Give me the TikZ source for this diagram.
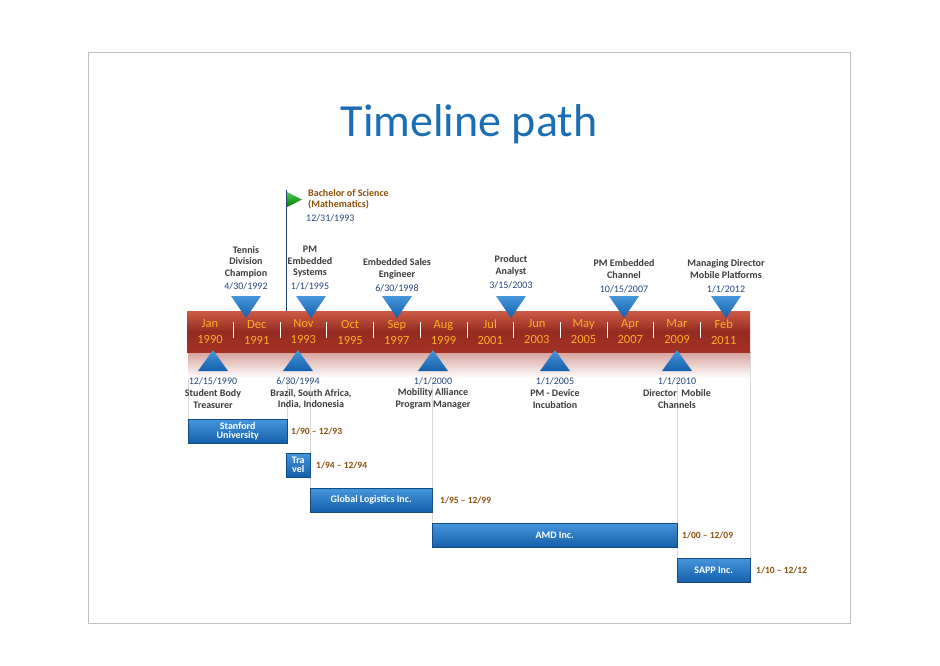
\documentclass[tikz,border=0pt]{standalone}
\usepackage{fontspec}
\setmainfont{Carlito}
\usetikzlibrary{shapes.geometric, arrows, calc, positioning}
\definecolor{barred}{RGB}{165,48,36}
\definecolor{barlight}{RGB}{205,92,70}
\definecolor{monthorange}{RGB}{255,172,40}
\definecolor{tribluelight}{RGB}{70,150,220}
\definecolor{triblue}{RGB}{20,95,170}
\definecolor{labelgray}{RGB}{60,60,60}
\definecolor{dateblue}{RGB}{35,70,125}
\definecolor{rangebrown}{RGB}{140,80,10}
\definecolor{titleblue}{RGB}{25,110,180}
\tikzstyle{eventtext} = [align=center, text=labelgray, font=\fontsize{10}{11.5}\selectfont\bfseries, inner sep=0pt]
\tikzstyle{eventdate} = [text=dateblue, font=\fontsize{10}{11}\selectfont, inner sep=0pt]
\tikzstyle{month} = [align=center, text=monthorange, font=\fontsize{12.5}{16}\selectfont, inner sep=0pt]
\tikzstyle{span} = [draw=triblue!80!black, top color=tribluelight, bottom color=triblue, text=white, align=center, font=\fontsize{10}{9}\selectfont\bfseries, inner sep=0pt, anchor=north west]
\tikzstyle{spanrange} = [text=rangebrown, font=\fontsize{9.5}{11}\selectfont\bfseries, inner sep=0pt, anchor=west]
\tikzstyle{guide} = [draw=black!15, thin]
\newcommand{\downmark}[1]{\shade[top color=tribluelight, bottom color=triblue] (#1-15,296) -- (#1+15,296) -- (#1,318) -- cycle;}
\newcommand{\upmark}[1]{\shade[top color=tribluelight, bottom color=triblue] (#1,350) -- (#1+15,371) -- (#1-15,371) -- cycle;}
\begin{document}
\begin{tikzpicture}[x=1pt, y=-1pt]
	\useasboundingbox (0,0) rectangle (940,665);
	\fill[white] (0,0) rectangle (940,665);
	\draw[black!25] (88,52) rectangle (850,623);
	\node (Title) [text=titleblue, font=\fontsize{46}{50}\selectfont] at (469,124) {Timeline path};
	% guide lines
	\draw[guide] (188,352) -- (188,443);
	\draw[guide] (287,352) -- (287,419);
	\draw[guide] (310,352) -- (310,488);
	\draw[guide] (432,352) -- (432,523);
	\draw[guide] (677,352) -- (677,558);
	\draw[guide] (750,352) -- (750,558);
	% bar and shadow
	\shade[top color=barred!45, bottom color=white] (188,352) rectangle (750,378);
	\shade[top color=barlight, bottom color=barred, middle color=barred!90!black] (187,311) rectangle (750,352);
	\foreach \m/\y [count=\i from 0] in {Jan/1990, Dec/1991, Nov/1993, Oct/1995, Sep/1997, Aug/1999, Jul/2001, Jun/2003, May/2005, Apr/2007, Mar/2009, Feb/2011}{
		\node (M\i) [month] at ({210+46.7*\i},332) {\m\\\y};
		\ifnum\i>0 \draw[white, line width=1pt] ({233.5+46.7*(\i-1)},322) -- ++(0,16); \fi
	}
	% flag
	\draw[dateblue, line width=1pt] (286,190) -- (286,311);
	\shade[top color=green!70!black!70, bottom color=green!50!black] (287,192) -- (302,199.5) -- (287,207) -- cycle;
	\node (Flag) [eventtext, text=rangebrown, align=left, anchor=north west] at (308,189) {Bachelor of Science\\(Mathematics)};
	\node (FlagDate) [eventdate, anchor=north west] at (306,214) {12/31/1993};
	% events above
	\node (Tennis) [eventtext] at (246,262) {Tennis\\Division\\Champion};
	\node (TennisDate) [eventdate] at (246,286) {4/30/1992};
	\node (PMSys) [eventtext] at (310,262) {PM\\Embedded\\Systems};
	\node (PMSysDate) [eventdate] at (310,286) {1/1/1995};
	\node (Sales) [eventtext] at (397,269) {Embedded Sales\\Engineer};
	\node (SalesDate) [eventdate] at (397,288) {6/30/1998};
	\node (Analyst) [eventtext] at (511,266) {Product\\Analyst};
	\node (AnalystDate) [eventdate] at (511,285) {3/15/2003};
	\node (Channel) [eventtext] at (624,269) {PM Embedded\\Channel};
	\node (ChannelDate) [eventdate] at (624,289) {10/15/2007};
	\node (Platforms) [eventtext] at (726,269) {Managing Director\\Mobile Platforms};
	\node (PlatformsDate) [eventdate] at (726,289) {1/1/2012};
	\downmark{246} \downmark{311} \downmark{397} \downmark{511} \downmark{624} \downmark{726}
	% events below
	\upmark{213} \upmark{298} \upmark{433} \upmark{555} \upmark{677}
	\node (TreasurerDate) [eventdate] at (213,381) {12/15/1990};
	\node (Treasurer) [eventtext] at (213,399) {Student Body\\Treasurer};
	\node (TravelDate) [eventdate] at (298,381) {6/30/1994};
	\node (Countries) [eventtext] at (311,399) {Brazil, South Africa,\\India, Indonesia};
	\node (AllianceDate) [eventdate] at (433,381) {1/1/2000};
	\node (Alliance) [eventtext] at (433,399) {Mobility Alliance\\Program Manager};
	\node (IncubationDate) [eventdate] at (555,381) {1/1/2005};
	\node (Incubation) [eventtext] at (555,399) {PM - Device\\Incubation};
	\node (MobileDate) [eventdate] at (677,381) {1/1/2010};
	\node (Mobile) [eventtext] at (677,399) {Director\ \ Mobile\\Channels};
	% spans
	\node (Stanford) [span, minimum width=99pt, minimum height=24pt] at (188,419) {Stanford\\University};
	\node (StanfordRange) [spanrange] at (291,431) {1/90 -- 12/93};
	\node (Travel) [span, minimum width=24pt, minimum height=24pt] at (286,453) {Tra\\vel};
	\node (TravelRange) [spanrange] at (316,465) {1/94 -- 12/94};
	\node (Logistics) [span, minimum width=122pt, minimum height=24pt] at (310,488) {Global Logistics Inc.};
	\node (LogisticsRange) [spanrange] at (440,500) {1/95 -- 12/99};
	\node (AMD) [span, minimum width=245pt, minimum height=24pt] at (432,523) {AMD Inc.};
	\node (AMDRange) [spanrange] at (682,535) {1/00 -- 12/09};
	\node (SAPP) [span, minimum width=73pt, minimum height=24pt] at (677,558) {SAPP Inc.};
	\node (SAPPRange) [spanrange] at (756,570) {1/10 -- 12/12};
\end{tikzpicture}
\end{document}
